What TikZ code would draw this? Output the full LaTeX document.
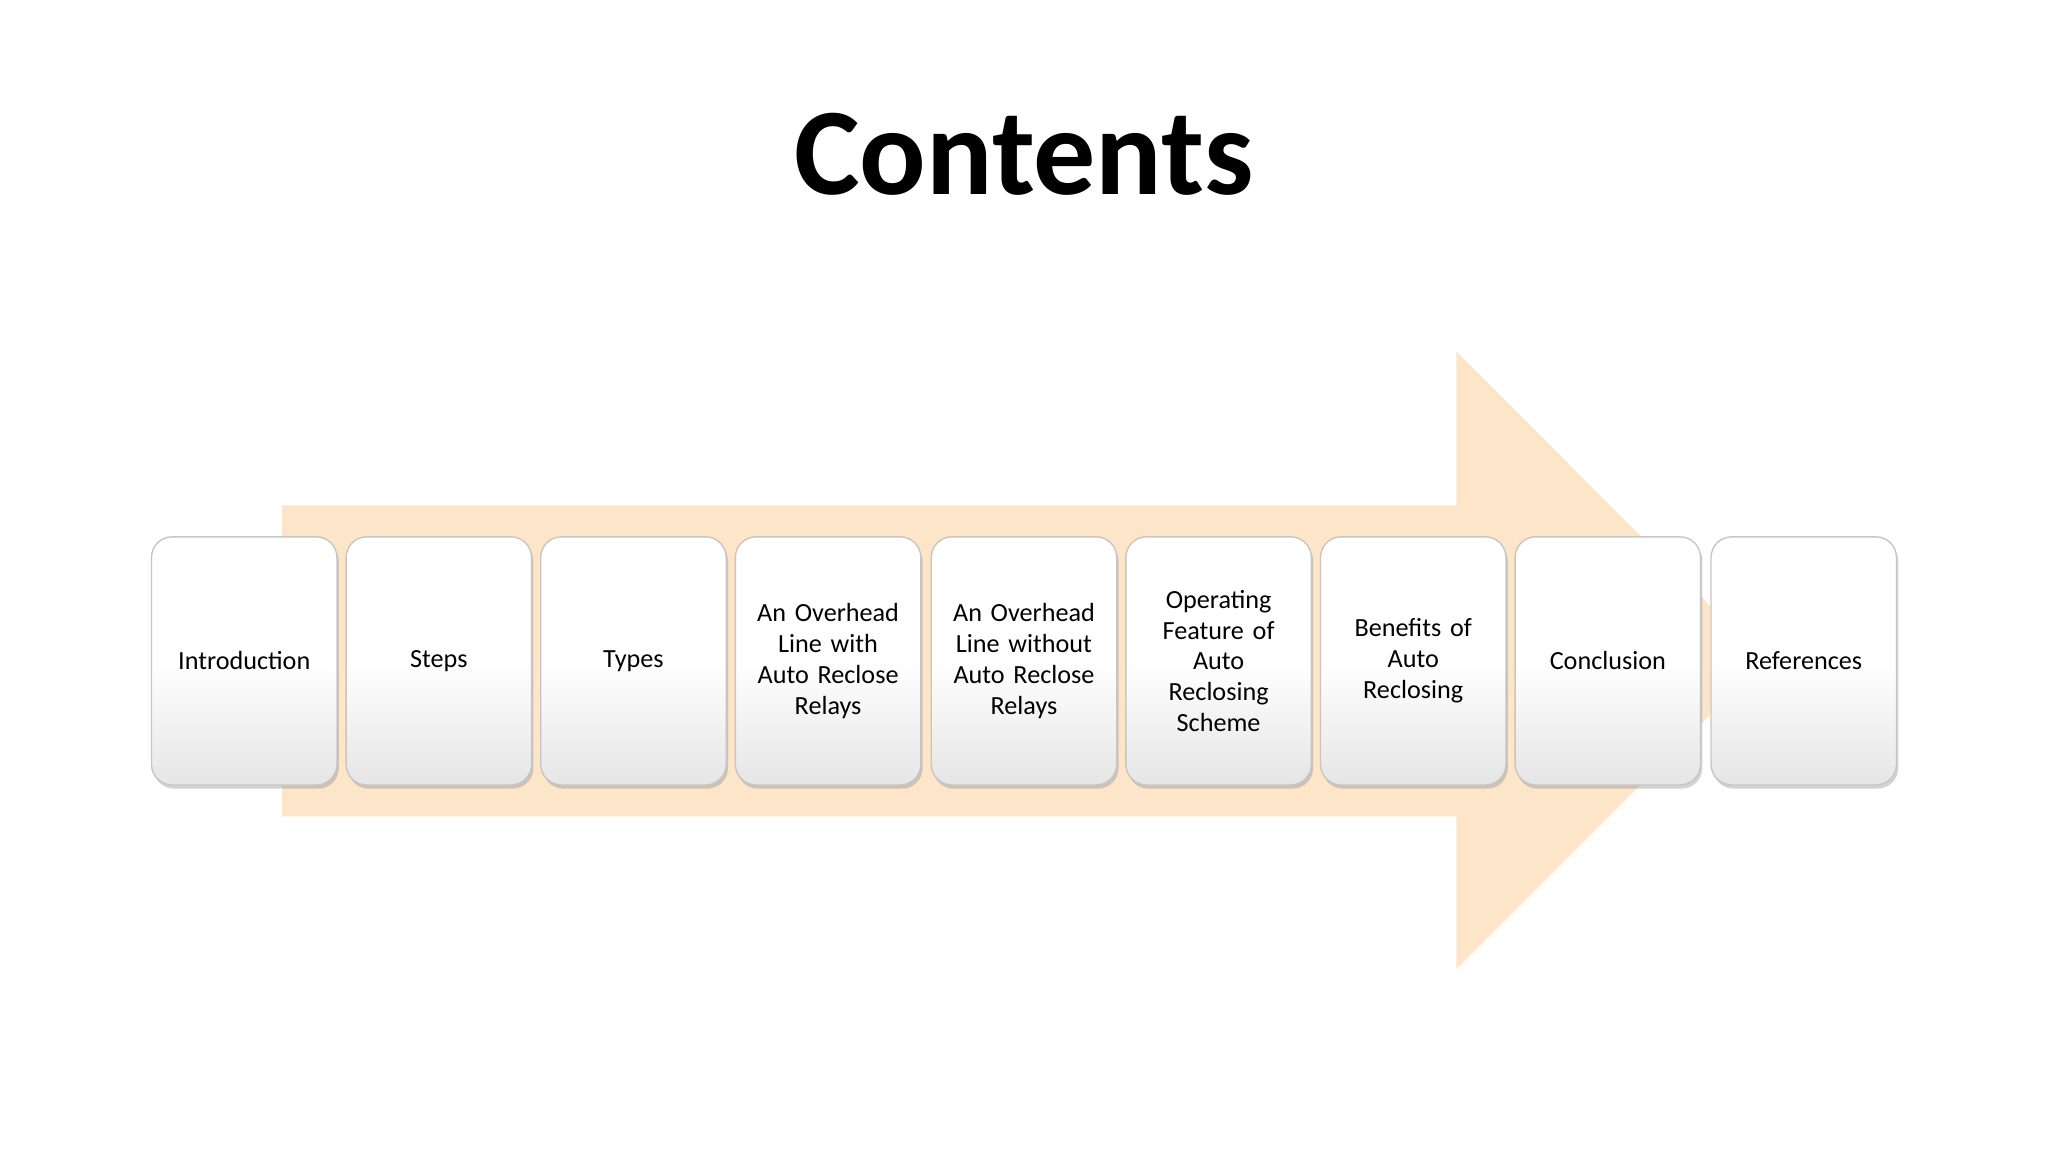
\documentclass[tikz,border=0pt]{standalone}
\usepackage{fontspec}
\setmainfont{Carlito}
\usetikzlibrary{shadows}
\definecolor{peach}{HTML}{FDE5C9}
\begin{document}
\begin{tikzpicture}[x=0.01cm,y=-0.01cm,
  box/.style={draw=gray!45,line width=0.3pt,rounded corners=4.5pt,minimum width=142*0.01cm,minimum height=190*0.01cm,
    top color=white,bottom color=black!10,middle color=white,align=center,font=\fontsize{5.7pt}{6.7pt}\selectfont,
    drop shadow={shadow xshift=0.4pt,shadow yshift=-0.8pt,opacity=0.35},inner sep=1pt,text width=125*0.01cm}]
\useasboundingbox (0,0) rectangle (1568,882);
\node[font=\bfseries\fontsize{27pt}{32pt}\selectfont] (title) at (784,118) {Contents};
\fill[peach] (216,387) -- (1115,387) -- (1115,269) -- (1351,505.5) -- (1115,742) -- (1115,625) -- (216,625) -- cycle;
\foreach \i/\x/\t in {1/187/Introduction,2/336/Steps,3/485/Types,
  4/634/{An Overhead\\Line with\\Auto Reclose\\Relays},
  5/784/{An Overhead\\Line without\\Auto Reclose\\Relays},
  6/933/{Operating\\Feature of\\Auto\\Reclosing\\Scheme},
  7/1082/{Benefits of\\Auto\\Reclosing},
  8/1231/Conclusion,9/1381/References}
  \node[box] (b\i) at (\x,506) {\t};
\end{tikzpicture}
\end{document}
